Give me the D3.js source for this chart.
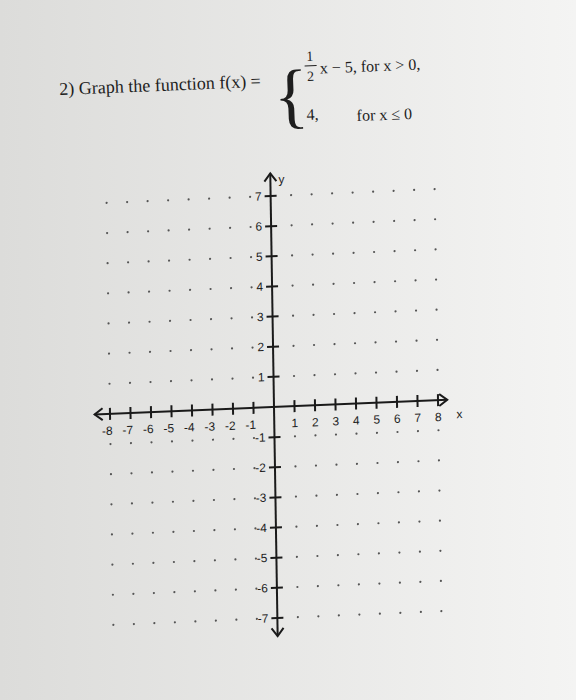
<!DOCTYPE html>
<html>
<head>
<meta charset="utf-8">
<script src="https://cdn.jsdelivr.net/npm/d3@7"></script>
<style>
  body { margin: 0; background: #e9e9e7; }
  text { font-family: "Liberation Serif", "DejaVu Serif", serif; fill: #1e1e1e; }
  .sans { font-family: "Liberation Sans", "DejaVu Sans", sans-serif; }
</style>
</head>
<body>
<div id="sheet"></div>
<script>
// tick values on each axis
var xTicks = [-8, -7, -6, -5, -4, -3, -2, -1, 1, 2, 3, 4, 5, 6, 7, 8];
var yTicks = [-7, -6, -5, -4, -3, -2, -1, 1, 2, 3, 4, 5, 6, 7];
// dotted grid points
var dotX = [-8, -7, -6, -5, -4, -3, -2, -1, 1, 2, 3, 4, 5, 6, 7, 8];
var dotY = [-7, -6, -5, -4, -3, -2, -1, 1, 2, 3, 4, 5, 6, 7];

var width = 576, height = 700;

var svg = d3.select("#sheet").append("svg")
  .attr("width", width)
  .attr("height", height);

// paper background, a bit darker on the left like the photo
var grad = svg.append("defs").append("linearGradient").attr("id", "paper");
grad.append("stop").attr("offset", "0%").attr("stop-color", "#dcdcda");
grad.append("stop").attr("offset", "100%").attr("stop-color", "#f4f4f3");
svg.append("rect").attr("width", width).attr("height", height).attr("fill", "url(#paper)");

// question text, tilted slightly like the photo
var sheet = svg.append("g").attr("transform", "rotate(-2.3, 288, 350)");

sheet.append("text")
  .attr("x", 70).attr("y", 86)
  .style("font-size", "18px")
  .text("2) Graph the function f(x) =");

sheet.append("text")
  .attr("x", 284).attr("y", 120)
  .style("font-size", "72px")
  .style("font-weight", "200")
  .text("{");

sheet.append("text").attr("x", 318).attr("y", 62).style("font-size", "14px").text("1");
sheet.append("line").attr("x1", 316).attr("x2", 328).attr("y1", 67).attr("y2", 67)
  .attr("stroke", "#1e1e1e").attr("stroke-width", 1);
sheet.append("text").attr("x", 318).attr("y", 82).style("font-size", "14px").text("2");
sheet.append("text").attr("x", 331).attr("y", 75).style("font-size", "16px")
  .text("x \u2212 5,  for x > 0,");
sheet.append("text").attr("x", 316).attr("y", 121).style("font-size", "16px").text("4,");
sheet.append("text").attr("x", 366).attr("y", 124).style("font-size", "16px").text("for x \u2264 0");

// ----- coordinate plane: x axis rises a little, y axis leans a little
var plane = svg.append("g").attr("transform", "matrix(1,-0.042,0.016,1,274,407)");

var x = d3.scaleLinear().domain([-8, 8]).range([-164, 164]);
var y = d3.scaleLinear().domain([-7, 7]).range([211, -211]);
var ink = "#1a1a1a";

// dots
var pts = [];
dotX.forEach(function(a){ dotY.forEach(function(b){ pts.push([a, b]); }); });
plane.selectAll("circle.dot")
  .data(pts)
  .enter()
  .append("circle")
  .attr("cx", d => x(d[0]))
  .attr("cy", d => y(d[1]))
  .attr("r", 1.1)
  .attr("fill", "#555");

// axes lines
plane.append("line")
  .attr("x1", x(-8.75)).attr("x2", x(8.45)).attr("y1", 0).attr("y2", 0)
  .attr("stroke", ink).attr("stroke-width", 2);
plane.append("line")
  .attr("x1", 0).attr("x2", 0).attr("y1", y(-7.6)).attr("y2", y(7.75))
  .attr("stroke", ink).attr("stroke-width", 2);

// arrow heads
function arrow(px, py, angle) {
  plane.append("path")
    .attr("d", "M-8,-6 L0,0 L-8,6")
    .attr("transform", "translate(" + px + "," + py + ") rotate(" + angle + ")")
    .attr("fill", "none").attr("stroke", ink).attr("stroke-width", 2);
}
arrow(x(8.45), 0, 0);
arrow(x(-8.75), 0, 180);
arrow(0, y(7.75), -90);
arrow(0, y(-7.6), 90);

// tick marks
plane.selectAll("line.xt").data(xTicks).enter().append("line")
  .attr("x1", d => x(d)).attr("x2", d => x(d)).attr("y1", -6).attr("y2", 6)
  .attr("stroke", ink).attr("stroke-width", 2);
plane.selectAll("line.yt").data(yTicks).enter().append("line")
  .attr("y1", d => y(d)).attr("y2", d => y(d)).attr("x1", -6).attr("x2", 6)
  .attr("stroke", ink).attr("stroke-width", 2);

// tick labels
plane.selectAll("text.xl").data(xTicks).enter().append("text").classed("sans", true)
  .attr("x", d => x(d) - (d < 0 ? 3 : 0))
  .attr("y", 21)
  .attr("text-anchor", "middle")
  .style("font-size", "12px")
  .text(d => d);
plane.selectAll("text.yl").data(yTicks).enter().append("text").classed("sans", true)
  .attr("x", -9)
  .attr("y", d => y(d) + 4)
  .attr("text-anchor", "end")
  .style("font-size", "12px")
  .text(d => d);

// axis names
plane.append("text").classed("sans", true).attr("x", x(8.45) + 9).attr("y", 19).style("font-size", "12px").text("x");
plane.append("text").classed("sans", true).attr("x", 8).attr("y", y(7.4)).style("font-size", "12px").text("y");
</script>
</body>
</html>
